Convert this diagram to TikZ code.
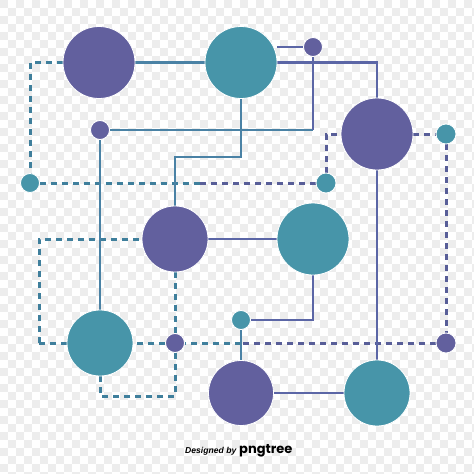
\documentclass[tikz,border=0pt]{standalone}
\usepackage{fontspec}
\setmainfont{Liberation Sans}
\newfontfamily\popfont{Poppins}
\definecolor{cpurple}{HTML}{62609E}
\definecolor{cteal}{HTML}{4795A9}
\definecolor{lpurple}{HTML}{5B66A6}
\definecolor{lteal}{HTML}{4A82A5}
\definecolor{dteal}{HTML}{3F7F9C}
\definecolor{dpurple}{HTML}{585E98}
\definecolor{checkgray}{HTML}{EDEDED}
\tikzset{
  pbig/.style={circle, fill=cpurple, draw=white, line width=0.8pt, inner sep=0pt, minimum size=#1},
  tbig/.style={circle, fill=cteal, draw=white, line width=0.8pt, inner sep=0pt, minimum size=#1},
  solidp/.style={draw=lpurple, line width=2.8pt},
  solidt/.style={draw=lteal, line width=2.8pt},
  dashp/.style={draw=dpurple, line width=3pt, dash pattern=on 6pt off 5pt},
  dasht/.style={draw=dteal, line width=3pt, dash pattern=on 6pt off 5pt},
}
\begin{document}
\begin{tikzpicture}[x=1pt,y=-1pt]
\useasboundingbox (0,0) rectangle (474,474);
\fill[white] (0,0) rectangle (474,474);
% transparency checkerboard
\foreach \j in {0,...,59}{
  \pgfmathsetmacro{\xs}{mod(\j,2)*8}
  \draw[checkgray, line width=8pt, dash pattern=on 8pt off 8pt] (\xs,\j*8+4) -- (474,\j*8+4);
}
% nodes
\node[pbig=72pt] (P1) at (99,62.5) {};
\node[tbig=72pt] (T1) at (241,62.5) {};
\node[pbig=19pt] (S1) at (313,47) {};
\node[pbig=72pt] (P2) at (377,134) {};
\node[tbig=20pt] (S2) at (446,134) {};
\node[pbig=19pt] (S3) at (100,130) {};
\node[tbig=19pt] (S4) at (30,183) {};
\node[tbig=20pt] (S5) at (326,183) {};
\node[pbig=66pt] (P3) at (175,239) {};
\node[tbig=72pt] (T2) at (313,239) {};
\node[tbig=66pt] (T3) at (100,343) {};
\node[pbig=19pt] (S6) at (175,343) {};
\node[tbig=19pt] (S7) at (241,320) {};
\node[pbig=65pt] (P4) at (241,393) {};
\node[tbig=66pt] (T4) at (377,393) {};
\node[pbig=20pt] (S8) at (446,343) {};
\coordinate (c1) at (0,157);
\coordinate (c2) at (39,343);
\coordinate (c3) at (175,396);
\coordinate (c4) at (200,183);
% dashed connectors
\path[dasht] (P1) -| (S4);
\path[dasht] (S4) -- (c4);
\path[dashp] (c4) -- (S5);
\path[dashp] (S5) |- (P2);
\path[dashp] (P2) -- (S2);
\path[dashp] (S2) -- (S8);
\path[dashp] (S8) -- (S7 |- S8);
\path[dasht] (S7 |- S8) -- (S6);
\path[dasht] (S6) -- (T3);
\path[dasht] (T3) -- (c2);
\path[dasht] (c2) |- (P3);
\path[dasht] (P3) -- (S6);
\path[dasht] (S6) -- (c3) -| (T3);
% solid connectors
\path[solidt] (P1) -- (T1);
\path[solidp] (T1.east |- S1) -- (S1);
\path[solidp] (T1) -- (P2 |- T1) -- (P2);
\path[solidt] (S3) -- (S1 |- S3);
\path[solidp] (S1 |- S3) -- (S1);
\path[solidt] (T1) -- (T1 |- c1) -- (P3 |- c1) -- (P3);
\path[solidt] (S3) -- (T3);
\path[solidp] (P3) -- (T2);
\path[solidp] (T2) |- (S7);
\path[solidt] (S7) -- (P4);
\path[solidp] (P4) -- (T4);
\path[solidp] (P2) -- (T4);
% redraw nodes on top
\foreach \n/\s/\m in {P1/pbig/72pt,T1/tbig/72pt,S1/pbig/19pt,P2/pbig/72pt,S2/tbig/20pt,S3/pbig/19pt,S4/tbig/19pt,S5/tbig/20pt,P3/pbig/66pt,T2/tbig/72pt,T3/tbig/66pt,S6/pbig/19pt,S7/tbig/19pt,P4/pbig/65pt,T4/tbig/66pt,S8/pbig/20pt}{
  \node[\s=\m] at (\n) {};
}
\node[anchor=base west, inner sep=0pt] (lbl) at (185,453) {\fontsize{8.6}{10}\selectfont\bfseries\itshape Designed by};
\node[anchor=base west, inner sep=0pt] (lbl2) at (239,453) {\fontsize{13}{14}\selectfont\popfont\bfseries pngtree};
\end{tikzpicture}
\end{document}
